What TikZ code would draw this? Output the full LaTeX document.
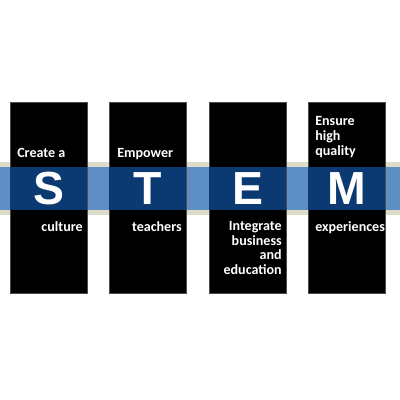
\documentclass[tikz,border=0pt]{standalone}
\usepackage{fontspec}
\setmainfont{Carlito}
\newfontfamily\bigfont{Liberation Sans}
\usetikzlibrary{positioning}
\definecolor{bandlight}{RGB}{93,143,196}
\definecolor{banddark}{RGB}{11,58,114}
\definecolor{beige}{RGB}{220,220,200}

\begin{document}
\begin{tikzpicture}[x=0.025cm, y=-0.025cm,
		col/.style = {fill=black, draw=black!70, thin},
		lbl/.style = {text=white, font=\bfseries\fontsize{10}{10.5}\selectfont, inner sep=0pt},
		big/.style = {text=white, font=\bigfont\bfseries\fontsize{33}{33}\selectfont, inner sep=0pt},
		]
		
		\useasboundingbox[fill=white] (0,0) rectangle (400,400);
		% band across the page
		\fill[beige]		(0,162)	rectangle (400,215);
		\fill[bandlight]	(0,167)	rectangle (400,210);
		% the four columns
		\foreach \x/\n in {10/s, 109/t, 209/e, 308/m} {
			\draw[col]	(\x,102)	rectangle (\x+77,293);
			\fill[banddark]	(\x,167)	rectangle (\x+77,210);
			\coordinate (c\n) at (\x+38.5,189);
		}
		
		\node[big] (S) at (cs) {S};
		\node[big] (T) at (ct) {T};
		\node[big] (E) at (ce) {E};
		\node[big] (M) at (cm) {M};
		
		\node[lbl, anchor=base west]	(create)	at (17,158)	{Create a};
		\node[lbl, anchor=base east]	(culture)	at (83,231)	{culture};
		\node[lbl, anchor=base west]	(empower)	at (117,158)	{Empower};
		\node[lbl, anchor=base east]	(teachers)	at (182,231)	{teachers};
		\node[lbl, anchor=north east, align=right]	(integrate)	at (282,221)	{Integrate\\business\\and\\education};
		\node[lbl, anchor=south west, align=left]	(ensure)	at (315,158)	{Ensure\\high\\quality};
		\node[lbl, anchor=base west]	(experiences)	at (315,231)	{experiences};
	\end{tikzpicture}
\end{document}
